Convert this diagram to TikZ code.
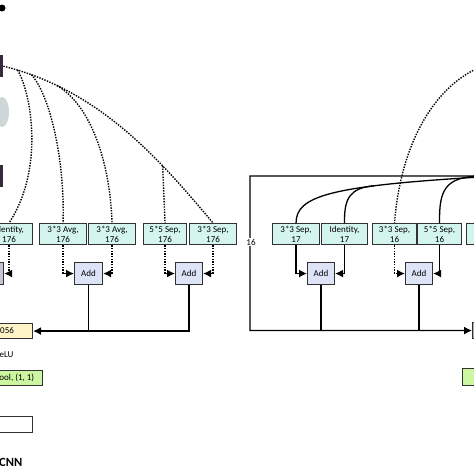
\documentclass[tikz,border=0pt]{standalone}
\usepackage{fontspec}
\setmainfont{Carlito}
\usetikzlibrary{arrows.meta}
\definecolor{aqua}{RGB}{212,245,238}
\definecolor{addc}{RGB}{222,228,248}
\definecolor{yelc}{RGB}{255,244,200}
\definecolor{grnc}{RGB}{204,247,160}
\definecolor{bordc}{RGB}{50,50,50}
\definecolor{grayb}{RGB}{180,176,160}
\definecolor{darkin}{RGB}{55,42,58}
\definecolor{blobc}{RGB}{205,215,215}
\begin{document}
\begin{tikzpicture}[x=1pt,y=-1pt,
  box/.style={draw=bordc, line width=1.1pt, inner sep=0pt, anchor=north west,
    font=\fontsize{9}{10}\selectfont, align=center, minimum height=21pt},
  opbox/.style={box, fill=aqua, minimum width=47pt},
  addbox/.style={box, fill=addc, minimum width=28pt, minimum height=22pt},
  txt/.style={inner sep=0pt, anchor=west, font=\fontsize{9}{10}\selectfont},
  dotl/.style={line width=1.4pt, dash pattern=on 1.4pt off 1.3pt},
  sol/.style={line width=1.3pt},
  arr/.style={-{Latex[length=8pt,width=8pt]}}]
\useasboundingbox (0,0) rectangle (474,474);
\clip (0,0) rectangle (474,474);
\fill[white] (0,0) rectangle (474,474);

% left column remnants
\fill (2,8) circle (3.5);
\node[fill=darkin, inner sep=0pt, minimum width=8pt, minimum height=22pt, anchor=north west] (inL) at (-5,55) {};
\node[fill=darkin, inner sep=0pt, minimum width=8pt, minimum height=22pt, anchor=north west] (inL2) at (-5,165) {};
\fill[blobc] (2,112) ellipse (7 and 15);

% left cell ops
\node[opbox] (idA) at (-15,223) {Identity,\\176};
\node[opbox] (avgA) at (39,223) {3*3 Avg,\\176};
\node[opbox] (avgB) at (88,223) {3*3 Avg,\\176};
\node[opbox, minimum width=43pt] (sepA) at (143,223) {5*5 Sep,\\176};
\node[opbox] (sepB) at (189,223) {3*3 Sep,\\176};

\node[addbox, fill=addc!70!gray] (addL) at (-25,262) {};
\node[addbox] (addA) at (74,262) {Add};
\node[addbox, minimum width=27pt] (addB) at (175,262) {Add};

\node[box, fill=yelc, minimum width=72pt, minimum height=15pt] (yel) at (-40,323) {};
\node[txt] (yeltxt) at (0,330.5) {056};
\node[txt] (relu) at (-5.4,355) {ReLU};
\node[box, fill=grnc, minimum width=102pt, minimum height=15pt] (grn) at (-60,370) {};
\node[txt] (grntxt) at (-5.2,377.5) {Pool, (1, 1)};
\node[box, fill=white, minimum width=72pt, minimum height=16pt] (wht) at (-40,416) {};
\node[inner sep=0pt, anchor=west, font=\fontsize{12.5}{14}\selectfont\bfseries] (cnn) at (-1,462.5) {CNN};

% dotted inputs, left cell
\draw[dotl] (inL.east) .. controls (100,90) and (160,160) .. (sepB.north)
  coordinate[pos=0.05] (j1) coordinate[pos=0.1] (j2)
  coordinate[pos=0.2] (j3) coordinate[pos=0.7] (j4);
\draw[dotl] (j1) .. controls (32,95) and (44,170) .. (idA.north);
\draw[dotl] (j2) .. controls (50,95) and (65,160) .. (avgA.north);
\draw[dotl] (j3) .. controls (90,105) and (110,160) .. (avgB.north);
\draw[dotl] (j4) -- (sepA.north);

\draw[dotl,arr] (idA.south) |- (addL.east);
\draw[dotl,arr] (avgA.south) |- (addA.west);
\draw[dotl,arr] (avgB.south) |- (addA.east);
\draw[dotl,arr] (sepA.south) |- (addB.west);
\draw[dotl,arr] (sepB.south) |- (addB.east);

\draw[sol] (addA.south) -- (addA.south |- yel.east);
\draw[sol,arr] (addB.south) |- (yel.east);

% right cell
\node[opbox] (sep17) at (272,223) {3*3 Sep,\\17};
\node[opbox, minimum width=46pt] (id17) at (321,223) {Identity,\\17};
\node[opbox, minimum width=44pt] (sep16) at (372,223) {3*3 Sep,\\16};
\node[opbox, minimum width=44pt] (sep16b) at (417,223) {5*5 Sep,\\16};
\node[opbox] (partR) at (466,223) {};

\node[addbox, minimum width=27pt] (addC) at (307,262) {Add};
\node[addbox, minimum width=27pt] (addD) at (405,262) {Add};

\node[box, fill=grayb, minimum width=30pt, minimum height=16pt] (gbox) at (472,322) {};
\node[box, fill=grnc, minimum width=40pt, minimum height=17pt] (grnR) at (462,368) {};

\coordinate (topR) at (480,176);
\coordinate (corner) at (250,330.5);
\draw[sol,arr] (topR) -| (corner) -- (gbox.west);
\node[txt, fill=white, anchor=center, inner sep=1pt] (lab16) at (251,242) {16};

\coordinate (topS) at (480,177);
\draw[sol] (topS) .. controls (330,186) and (296,196) .. (sep17.north)
  coordinate[pos=0.3] (k1);
\draw[sol] (k1) .. controls (350,188) and (344,198) .. (id17.north);
\coordinate (topS2) at (480,176);
\draw[sol] (topS2) .. controls (445,177) and (439,190) .. (sep16b.north);

\coordinate (topD) at (478,68);
\draw[dotl] (topD) .. controls (430,90) and (400,150) .. (sep16.north);

\draw[sol,arr] (sep17.south) |- (addC.west);
\draw[sol,arr] (id17.south) |- (addC.east);
\draw[dotl,arr] (sep16.south) |- (addD.west);
\draw[sol,arr] (sep16b.south) |- (addD.east);

\draw[sol] (addC.south) -- (addC.south |- corner);
\draw[sol] (addD.south) -- (addD.south |- corner);
\end{tikzpicture}
\end{document}
